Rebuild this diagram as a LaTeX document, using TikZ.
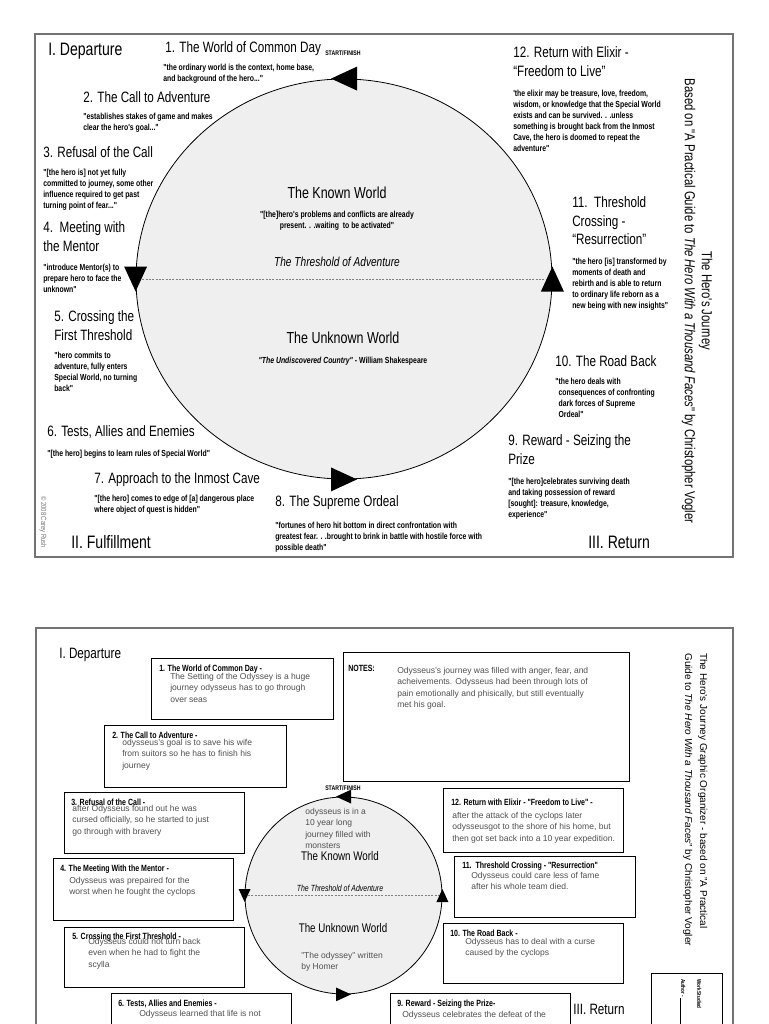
\documentclass[tikz,border=0pt]{standalone}
\usepackage{fontspec}
\setmainfont{Liberation Sans}
\newfontfamily\condfont[FakeStretch=0.78]{Liberation Sans}
\usetikzlibrary{shapes.geometric}
\definecolor{framegray}{RGB}{115,115,115}
\definecolor{worldfill}{RGB}{239,239,239}
\definecolor{notegray}{RGB}{80,80,80}
% filled arrowhead sitting on the journey circle
\newcommand\journeytip[3]{\fill[shift={#1},rotate=#2] (#3,0)--(-#3,{-.92*#3})--(-#3,{.92*#3})--cycle;}

\begin{document}
\begin{tikzpicture}[x=.75pt,y=-.75pt,
    part/.style={anchor=base west,inner sep=0,font=\condfont\fontsize{13.5}{16}\selectfont},
    stage/.style={anchor=north west,inner sep=0,align=left,yshift=9.73pt,execute at begin node=\strut,font=\condfont\fontsize{11.25}{13.9}\selectfont},
    quote/.style={anchor=north west,inner sep=0,align=left,yshift=5.775pt,execute at begin node=\strut,font=\condfont\bfseries\fontsize{6.6}{8.25}\selectfont},
    world/.style={anchor=base,inner sep=0,font=\condfont\fontsize{12}{14}\selectfont},
    entrybox/.style={draw,line width=.6pt},
    boxhead/.style={anchor=base west,inner sep=0,font=\condfont\bfseries\fontsize{6.75}{8}\selectfont},
    boxtext/.style={anchor=north west,inner sep=0,align=left,yshift=6.02pt,execute at begin node=\strut,text=notegray,font=\fontsize{6.4}{8.6}\selectfont}]
  \useasboundingbox (0,0) rectangle (768,1024);
  \fill[white] (0,0) rectangle (768,1024);

  % upper sheet
  \draw[framegray,line width=1.1pt] (35,34) rectangle (733,557);
  \node[ellipse,draw,fill=worldfill,line width=.6pt,minimum width=312pt,minimum height=300pt,inner sep=0] (journey) at (344,279) {};
  \draw[gray,line width=.4pt,dash pattern=on 1.5pt off 1pt] (journey.west) -- (journey.east);
  \journeytip{(journey.north)}{180}{13}
  \journeytip{(journey.west)}{-90}{12.5}
  \journeytip{(journey.east)}{90}{12.5}
  \journeytip{(journey.south)}{0}{13}
  \node[anchor=base west,inner sep=0,font=\condfont\bfseries\fontsize{5}{6}\selectfont] (start) at (325,56) {START/FINISH};

  \node[world] (known) at (337,198) {The Known World};
  \node[quote,anchor=north,align=center] (knownq) at (337,219) {"[the]hero's problems and conflicts are already\\present. . .waiting~ to be activated"};
  \node[anchor=base,inner sep=0,font=\condfont\itshape\fontsize{9.75}{11}\selectfont] (threshold) at (337,266) {The Threshold of Adventure};
  \node[world] (unknown) at (343,343) {The Unknown World};
  \node[quote,anchor=north] (unknownq) at (343,363) {\textit{"The Undiscovered Country"} - William Shakespeare};

  \node[part] (departure) at (48,56) {I. Departure};
  \node[part] (fulfil) at (71,548) {II. Fulfillment};
  \node[part] (return) at (588,548) {III. Return};

  \node[stage] (s1) at (165,52.5) {1. The World of Common Day};
  \node[quote] (q1) at (163,72) {"the ordinary world is the context, home base,\\and background of the hero..."};
  \node[stage] (s2) at (83,102.5) {2. The Call to Adventure};
  \node[quote] (q2) at (83,121) {"establishes stakes of game and makes\\clear the hero's goal..."};
  \node[stage] (s3) at (43,157.5) {3. Refusal of the Call};
  \node[quote] (q3) at (43,177) {"[the hero is] not yet fully\\committed to journey, some other\\influence required to get past\\turning point of fear..."};
  \node[stage] (s4) at (43,234.5) {4.~~Meeting with\\the Mentor};
  \node[quote] (q4) at (43,272) {"introduce Mentor(s) to\\prepare hero to face the\\unknown"};
  \node[stage] (s5) at (54,323.5) {5. Crossing the\\First Threshold};
  \node[quote] (q5) at (54,360) {"hero commits to\\adventure, fully enters\\Special World, no turning\\back"};
  \node[stage] (s6) at (47,436.5) {6. Tests, Allies and Enemies};
  \node[quote] (q6) at (47,456) {"[the hero] begins to learn rules of Special World"};
  \node[stage] (s7) at (94,483.5) {7. Approach to the Inmost Cave};
  \node[quote] (q7) at (94,503) {"[the hero] comes to edge of [a] dangerous place\\where object of quest is hidden"};
  \node[stage] (s8) at (275,506.5) {8. The Supreme Ordeal};
  \node[quote] (q8) at (275,530) {"fortunes of hero hit bottom in direct confrontation with\\greatest fear. . .brought to brink in battle with hostile force with\\possible death"};
  \node[stage] (s9) at (508,447.5) {9. Reward - Seizing the\\Prize};
  \node[quote] (q9) at (508,486) {"[the hero]celebrates surviving death\\and taking possession of reward\\{}[sought]: treasure, knowledge,\\experience"};
  \node[stage] (s10) at (555,366.5) {10. The Road Back};
  \node[quote] (q10) at (555,386) {"the hero deals with\\\hspace*{2.5pt}consequences of confronting\\\hspace*{2.5pt}dark forces of Supreme\\\hspace*{2.5pt}Ordeal"};
  \node[stage] (s11) at (572,209.5) {11.~~Threshold\\Crossing -\\“Resurrection”};
  \node[quote] (q11) at (572,266) {"the hero [is] transformed by\\moments of death and\\rebirth and is able to return\\to ordinary life reborn as a\\new being with new insights"};
  \node[stage] (s12) at (513,59.5) {12. Return with Elixir -\\“Freedom to Live”};
  \node[quote] (q12) at (513,98) {'the elixir may be treasure, love, freedom,\\wisdom, or knowledge that the Special World\\exists and can be survived. . .unless\\something is brought back from the Inmost\\Cave, the hero is doomed to repeat the\\adventure"};

  \node[rotate=-90,align=center,inner sep=0,font=\condfont\fontsize{10.9}{12.75}\selectfont] (title) at (697,301) {The Hero's Journey\\Based on "A Practical Guide to \textit{The Hero With a Thousand Faces}" by Christopher Vogler};
  \node[rotate=-90,inner sep=0,text=framegray,font=\condfont\fontsize{5.6}{6}\selectfont] (copy) at (43,522) {\textcopyright{} 2008 Carey Rush};

  % lower sheet: filled-in organizer
  \draw[framegray,line width=1.1pt] (36,1040) -- (36,628) -- (733,628) -- (733,1040);
  \node[part,font=\condfont\fontsize{11.25}{13}\selectfont] (departure2) at (59,658.5) {I. Departure};
  \node[part,font=\condfont\fontsize{11.25}{13}\selectfont] (return2) at (573,1014.5) {III. Return};

  \node[circle,draw,fill=worldfill,line width=.6pt,minimum size=147.75pt,inner sep=0] (odyssey) at (343.5,895.5) {};
  \draw[gray,line width=.4pt,dash pattern=on 1.5pt off 1pt] (odyssey.west) -- (odyssey.east);
  \journeytip{(odyssey.north)}{180}{7.5}
  \journeytip{(odyssey.west)}{-90}{6.5}
  \journeytip{(odyssey.east)}{90}{6.5}
  \journeytip{(odyssey.south)}{0}{7.5}
  \node[anchor=base west,inner sep=0,font=\condfont\bfseries\fontsize{5}{6}\selectfont] (start2) at (325,790) {START/FINISH};
  \node[boxtext] (journeyq) at (305,816) {odysseus is in a\\10 year long\\journey filled with\\monsters};
  \node[world,font=\condfont\fontsize{9.4}{11}\selectfont] (known2) at (340,860) {The Known World};
  \node[anchor=base,inner sep=0,font=\condfont\itshape\fontsize{6.7}{8}\selectfont] (threshold2) at (340,891.5) {The Threshold of Adventure};
  \node[world,font=\condfont\fontsize{9.4}{11}\selectfont] (unknown2) at (343,932) {The Unknown World};
  \node[boxtext] (homer) at (301,960) {"The odyssey" written\\by Homer};

  \draw[entrybox] (151,658) rectangle (333,719);
  \node[boxhead] (b1) at (159,671) {1. The World of Common Day -};
  \node[boxtext] (t1) at (170,681) {The Setting of the Odyssey is a huge\\journey odysseus has to go through\\over seas};
  \draw[entrybox] (343,652) rectangle (629,781);
  \node[boxhead] (notes) at (348,671) {NOTES:};
  \node[boxtext] (tnotes) at (397,675) {Odysseus's journey was filled with anger, fear, and\\acheivements. Odysseus had been through lots of\\pain emotionally and phisically, but still eventually\\met his goal.};
  \draw[entrybox] (104,725) rectangle (286,787);
  \node[boxhead] (b2) at (112,738) {2. The Call to Adventure -};
  \node[boxtext] (t2) at (122,747) {odysseus's goal is to save his wife\\from suitors so he has to finish his\\journey};
  \draw[entrybox] (64,792) rectangle (244,853);
  \node[boxhead] (b3) at (71,805) {3. Refusal of the Call -};
  \node[boxtext] (t3) at (72,813) {after Odysseus found out he was\\cursed officially, so he started to just\\go through with bravery};
  \draw[entrybox] (53,858) rectangle (233,920);
  \node[boxhead] (b4) at (60,871) {4. The Meeting With the Mentor -};
  \node[boxtext] (t4) at (69,885) {Odysseus was prepaired for the\\worst when he fought the cyclops};
  \draw[entrybox] (64,927) rectangle (244,987);
  \node[boxhead] (b5) at (72,939) {5. Crossing the First Threshold -};
  \node[boxtext] (t5) at (88,946) {Odysseus could not turn back\\even when he had to fight the\\scylla};
  \draw[entrybox] (111,993) rectangle (291,1040);
  \node[boxhead] (b6) at (118,1006) {6. Tests, Allies and Enemies -};
  \node[boxtext] (t6) at (139,1016) {Odysseus learned that life is not};

  \draw[entrybox] (443,788) rectangle (623,852);
  \node[boxhead] (b12) at (451,805) {12. Return with Elixir - "Freedom to Live" -};
  \node[boxtext] (t12) at (452,820) {after the attack of the cyclops later\\odysseusgot to the shore of his home, but\\then got set back into a 10 year expedition.};
  \draw[entrybox] (454,856) rectangle (635,917);
  \node[boxhead] (b11) at (462,868) {11.~~Threshold Crossing - "Resurrection"};
  \node[boxtext] (t11) at (471,880) {Odysseus could care less of fame\\after his whole team died.};
  \draw[entrybox] (443,923) rectangle (623,983);
  \node[boxhead] (b10) at (450,936) {10. The Road Back -};
  \node[boxtext] (t10) at (465,946) {Odysseus has to deal with a curse\\caused by the cyclops};
  \draw[entrybox] (390,993) rectangle (570,1040);
  \node[boxhead] (b9) at (397,1006) {9. Reward - Seizing the Prize-};
  \node[boxtext] (t9) at (402,1017) {Odysseus celebrates the defeat of the};

  \draw[entrybox] (651,973) rectangle (722,1040);
  \node[rotate=-90,anchor=base west,align=left,inner sep=0,font=\condfont\bfseries\fontsize{4.4}{12}\selectfont] (work) at (681,979) {Work Studied\\Author - \rule[-.5pt]{22pt}{.4pt}};
  \node[rotate=-90,anchor=base west,align=left,inner sep=0,font=\fontsize{7.5}{11.25}\selectfont] (organizer) at (685,653) {The Hero's Journey Graphic Organizer - based on "A Practical\\Guide to \textit{The Hero With a Thousand Faces}" by Christopher Vogler};
\end{tikzpicture}
\end{document}
